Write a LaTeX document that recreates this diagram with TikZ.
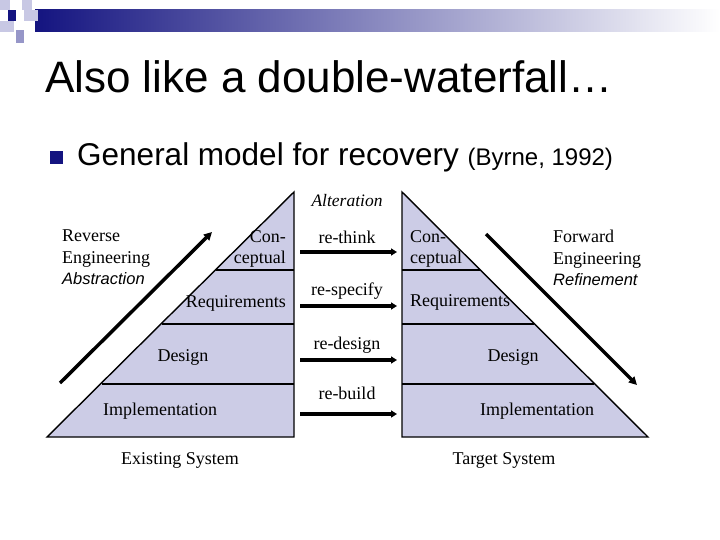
\documentclass[tikz,border=0pt]{standalone}
\usepackage{fontspec}
\setmainfont{Liberation Serif}
\newfontfamily\arial{Liberation Sans}
\usetikzlibrary{arrows.meta}
\definecolor{lav}{RGB}{204,204,230}
\definecolor{navy}{RGB}{20,20,128}
\definecolor{lsq}{RGB}{200,200,228}
\definecolor{msq}{RGB}{150,150,200}
\begin{document}
\begin{tikzpicture}[x=1pt,y=-1pt,
  tri/.style={fill=lav,draw=black,line width=1.4pt,line join=miter},
  band/.style={draw=black,line width=1.2pt},
  lbl/.style={font=\fontsize{18}{21}\selectfont,inner sep=0pt,align=left},
  bigarrow/.style={line width=3.5pt,-{Triangle[length=8pt,width=8pt]}},
  altarrow/.style={line width=3.5pt,-{Triangle[length=6pt,width=7pt]}}]
\useasboundingbox (0,0) rectangle (720,540);
% header
\shade[left color=navy,right color=white] (35,10) rectangle (720,32);
\fill[lsq] (0,0) rectangle (10,10);
\fill[lsq] (22,0) rectangle (32,10);
\fill[navy] (8,10) rectangle (16,21);
\fill[lsq] (24,10) rectangle (38,21);
\fill[lsq] (0,21) rectangle (14,32);
\fill[msq] (16,30) rectangle (24,43);
\node[anchor=base west,font=\arial\fontsize{44}{50}\selectfont,inner sep=0pt] (title) at (45,93) {Also like a double-waterfall…};
\fill[navy] (50,151) rectangle (63,164);
\node[anchor=base west,font=\arial\fontsize{31.5}{36}\selectfont,inner sep=0pt] (sub) at (77,166) {General model for recovery \fontsize{24}{28}\selectfont(Byrne, 1992)};
% left triangle
\coordinate (LA) at (294,192);
\coordinate (LB) at (294,437);
\coordinate (LC) at (47,437);
\path[tri] (LA) -- (LB) -- (LC) -- cycle;
\draw[band] (216,270) -- (294,270);
\draw[band] (162,324) -- (294,324);
\draw[band] (102,384) -- (294,384);
\coordinate (r1) at (60,383);
\coordinate (r2) at (212,232);
\draw[bigarrow] (r1) -- (r2);
% right triangle
\coordinate (RA) at (402,192);
\coordinate (RB) at (402,437);
\coordinate (RC) at (648,437);
\path[tri] (RA) -- (RB) -- (RC) -- cycle;
\draw[band] (402,270) -- (480,270);
\draw[band] (402,324) -- (534,324);
\draw[band] (402,384) -- (594,384);
\coordinate (f1) at (486,234);
\coordinate (f2) at (637,385);
\draw[bigarrow] (f1) -- (f2);
% alteration arrows
\foreach \y/\n in {252/a,306/b,360/c,414/d}{
  \coordinate (s\n) at (300,\y);
  \coordinate (e\n) at (397,\y);
  \draw[altarrow] (s\n) -- (e\n);
}
% labels left
\node[lbl,anchor=north west] (rev) at (62,230) {Reverse\\[0.5pt]Engineering\\[0.5pt]\textit{\arial\fontsize{16.5}{19}\selectfont Abstraction}};
\node[lbl,anchor=north east,align=right] (lcon) at (286,230) {Con-\\[0.5pt]ceptual};
\node[lbl,anchor=east] (lreq) at (286,303) {Requirements};
\node[lbl] (ldes) at (183,357) {Design};
\node[lbl] (limp) at (160,411) {Implementation};
\node[lbl] (ex) at (180,460) {Existing System};
% middle
\node[lbl,font=\fontsize{17.5}{20}\selectfont\itshape] (alt) at (347,201) {Alteration};
\node[lbl] (m1) at (347,237) {re-think};
\node[lbl] (m2) at (347,291) {re-specify};
\node[lbl] (m3) at (347,345) {re-design};
\node[lbl] (m4) at (347,393) {re-build};
% right labels
\node[lbl,anchor=north west] (rcon) at (410,230) {Con-\\[0.5pt]ceptual};
\node[lbl,anchor=west] (rreq) at (410,302) {Requirements};
\node[lbl] (rdes) at (513,357) {Design};
\node[lbl] (rimp) at (537,411) {Implementation};
\node[lbl] (tg) at (504,460) {Target System};
\node[lbl,anchor=north west] (fwd) at (553,230) {Forward\\[0.5pt]Engineering\\[0.5pt]\textit{\arial\fontsize{16.5}{19}\selectfont Refinement}};
\end{tikzpicture}
\end{document}
